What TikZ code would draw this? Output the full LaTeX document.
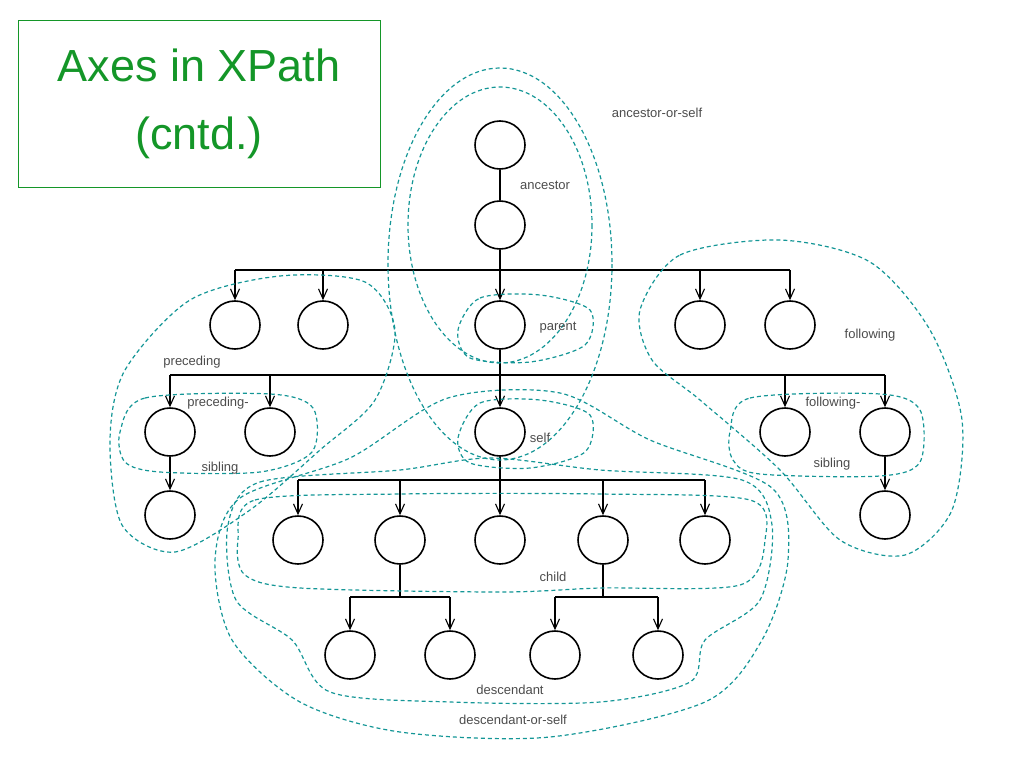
\documentclass[tikz,border=0pt]{standalone}
\usepackage{fontspec}
\setmainfont{Liberation Sans}
\usetikzlibrary{shapes.geometric,arrows.meta,calc}
\definecolor{axis}{RGB}{20,150,150}
\definecolor{ttl}{RGB}{20,150,40}
\begin{document}
\begin{tikzpicture}[x=1pt,y=-1pt,>={Straight Barb[length=10pt,width=9pt]}]
\tikzset{nd/.style={draw, ellipse, line width=1.6pt, minimum width=50pt, minimum height=48pt, inner sep=0pt}}
\tikzstyle{ed}=[line width=1.1pt]
\tikzstyle{ax}=[draw=axis, line width=1.2pt, dash pattern=on 4pt off 3pt]
\tikzstyle{lbl}=[text=black!70, font=\fontsize{13}{15}\selectfont, inner sep=1pt]
\useasboundingbox (0,0) rectangle (1024,768);

% title
\node(T)[draw=ttl, text=ttl, minimum width=362pt, minimum height=167pt, align=center,
  font=\fontsize{45}{68}\selectfont, anchor=north west] at (18,20) {Axes in XPath\\(cntd.)};

% tree nodes
\node(A1)[nd] at (500,145) {};
\node(A2)[nd] at (500,225) {};
\node(P1)[nd] at (235,325) {};
\node(P2)[nd] at (323,325) {};
\node(Par)[nd] at (500,325) {};
\node(F1)[nd] at (700,325) {};
\node(F2)[nd] at (790,325) {};
\node(S1)[nd] at (170,432) {};
\node(S2)[nd] at (270,432) {};
\node(Self)[nd] at (500,432) {};
\node(FS1)[nd] at (785,432) {};
\node(FS2)[nd] at (885,432) {};
\node(S1c)[nd] at (170,515) {};
\node(FS2c)[nd] at (885,515) {};
\node(C1)[nd] at (298,540) {};
\node(C2)[nd] at (400,540) {};
\node(C3)[nd] at (500,540) {};
\node(C4)[nd] at (603,540) {};
\node(C5)[nd] at (705,540) {};
\node(G1)[nd] at (350,655) {};
\node(G2)[nd] at (450,655) {};
\node(G3)[nd] at (555,655) {};
\node(G4)[nd] at (658,655) {};

% bars
\coordinate(b1) at (500,270);
\coordinate(b2) at (500,375);
\coordinate(b3) at (500,480);
\coordinate(b4) at (400,597);
\coordinate(b5) at (603,597);

% edges
\draw[ed] (A1) -- (A2);
\draw[ed] (A2) -- (b1);
\draw[ed] (P1 |- b1) -- (F2 |- b1);
\foreach \n in {P1,P2,Par,F1,F2} \draw[ed,->] (\n |- b1) -- (\n);
\draw[ed] (Par) -- (b2);
\draw[ed] (S1 |- b2) -- (FS2 |- b2);
\foreach \n in {S1,S2,Self,FS1,FS2} \draw[ed,->] (\n |- b2) -- (\n);
\draw[ed,->] (S1) -- (S1c);
\draw[ed,->] (FS2) -- (FS2c);
\draw[ed] (Self) -- (b3);
\draw[ed] (C1 |- b3) -- (C5 |- b3);
\foreach \n in {C1,C2,C3,C4,C5} \draw[ed,->] (\n |- b3) -- (\n);
\draw[ed] (C2) -- (b4);
\draw[ed] (G1 |- b4) -- (G2 |- b4);
\foreach \n in {G1,G2} \draw[ed,->] (\n |- b4) -- (\n);
\draw[ed] (C4) -- (b5);
\draw[ed] (G3 |- b5) -- (G4 |- b5);
\foreach \n in {G3,G4} \draw[ed,->] (\n |- b5) -- (\n);

% axis regions
\draw[ax] (500,264) ellipse (112 and 196);
\draw[ax] (500,225) ellipse (92 and 138);
\draw[ax] plot[smooth cycle] coordinates {(458,330) (480,298) (540,295) (590,310) (585,345) (530,362) (470,358)};
\draw[ax] plot[smooth cycle] coordinates {(458,438) (480,403) (540,400) (590,415) (585,452) (530,468) (470,463)};
\draw[ax] plot[smooth cycle] coordinates {(110,440) (125,370) (190,300) (280,276) (365,282) (395,330) (375,400) (320,450) (250,510) (175,552) (122,525)};
\draw[ax] plot[smooth cycle] coordinates {(120,432) (145,398) (270,394) (313,408) (312,452) (260,472) (160,472) (125,462)};
\draw[ax] plot[smooth cycle] coordinates {(640,310) (680,255) (780,240) (870,262) (930,330) (962,420) (952,510) (905,555) (840,540) (780,470) (700,400) (652,360)};
\draw[ax] plot[smooth cycle] coordinates {(730,432) (750,398) (880,394) (920,410) (920,462) (880,476) (760,474) (733,460)};
\draw[ax] plot[smooth cycle] coordinates {(238,540) (255,500) (400,494) (600,494) (750,500) (765,540) (740,585) (600,588) (500,592) (300,588) (245,575)};
\draw[ax] plot[smooth cycle] coordinates {(228,525) (260,482) (400,470) (490,458) (600,470) (742,480) (772,525) (760,600) (705,640) (690,682) (600,702) (450,702) (330,692) (292,640) (236,600)};
\draw[ax] plot[smooth cycle] coordinates {(215,560) (240,498) (350,458) (448,398) (560,393) (650,440) (772,488) (788,560) (762,640) (705,702) (550,737) (400,732) (300,702) (232,640)};

% labels
\node(Laos)[lbl] at (657,113) {ancestor-or-self};
\node(Lanc)[lbl] at (545,185) {ancestor};
\node(Lpar)[lbl] at (558,328) {parent};
\node(Lfol)[lbl] at (870,335) {following};
\node(Lpre)[lbl] at (192,362) {preceding};
\node(Lps1)[lbl] at (218,403) {preceding-};
\node(Lps2)[lbl] at (220,468) {sibling};
\node(Lself)[lbl] at (540,438) {self};
\node(Lfs1)[lbl] at (833,403) {following-};
\node(Lfs2)[lbl] at (832,464) {sibling};
\node(Lch)[lbl] at (553,577) {child};
\node(Ldes)[lbl] at (510,690) {descendant};
\node(Ldos)[lbl] at (513,720) {descendant-or-self};
\end{tikzpicture}
\end{document}
